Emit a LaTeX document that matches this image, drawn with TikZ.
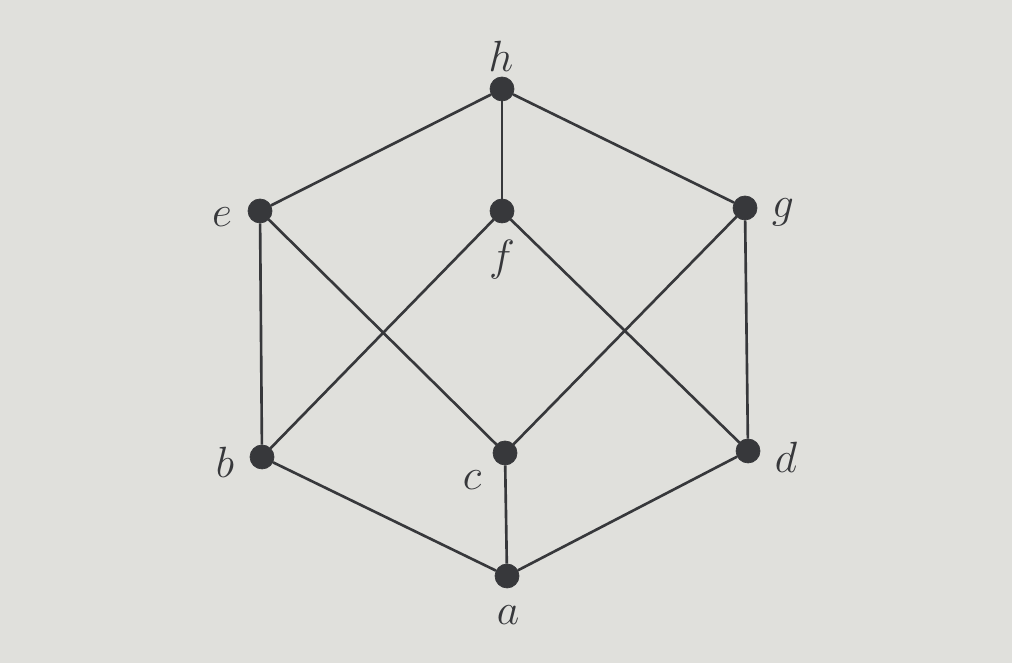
\documentclass[tikz,border=0pt]{standalone}
\usepackage{tikz}
\usepackage{amsmath, amssymb}
\definecolor{paper}{RGB}{224,224,220}
\definecolor{ink}{RGB}{55,56,59}
\usetikzlibrary{positioning}
\tikzset{vertex/.style={circle, draw=ink, fill=ink, minimum size=0.48cm, inner sep=0pt}}
\tikzset{tag/.style={text=ink, font=\fontsize{26}{30}\selectfont, inner sep=0pt}}
\tikzset{line/.style={draw=ink, line width=1.5pt}}

\begin{document}
\begin{tikzpicture}
        \fill[paper] (0,0) rectangle (20.24,13.26);
        \useasboundingbox (0,0) rectangle (20.24,13.26);

        \node[vertex] (h) at (10.04,11.48) {};
        \node[vertex] (e) at (5.20,9.04)   {};
        \node[vertex] (f) at (10.04,9.04)  {};
        \node[vertex] (g) at (14.90,9.10)  {};
        \node[vertex] (b) at (5.24,4.12)   {};
        \node[vertex] (c) at (10.10,4.20)  {};
        \node[vertex] (d) at (14.96,4.24)  {};
        \node[vertex] (a) at (10.14,1.74)  {};

        \node[tag] (lh) at (10.02,12.14) {$h$};
        \node[tag] (le) at (4.44,8.92)   {$e$};
        \node[tag] (lf) at (10.04,8.06)  {$f$};
        \node[tag] (lg) at (15.66,9.02)  {$g$};
        \node[tag] (lb) at (4.50,4.02)   {$b$};
        \node[tag] (lc) at (9.44,3.66)   {$c$};
        \node[tag] (ld) at (15.72,4.12)  {$d$};
        \node[tag] (la) at (10.16,0.96)  {$a$};

        \path[line] (h) -- (e);
        \path[line] (h) -- (f);
        \path[line] (h) -- (g);
        \path[line] (e) -- (b);
        \path[line] (e) -- (c);
        \path[line] (f) -- (b);
        \path[line] (f) -- (d);
        \path[line] (g) -- (c);
        \path[line] (g) -- (d);
        \path[line] (b) -- (a);
        \path[line] (c) -- (a);
        \path[line] (d) -- (a);
      \end{tikzpicture}
\end{document}
